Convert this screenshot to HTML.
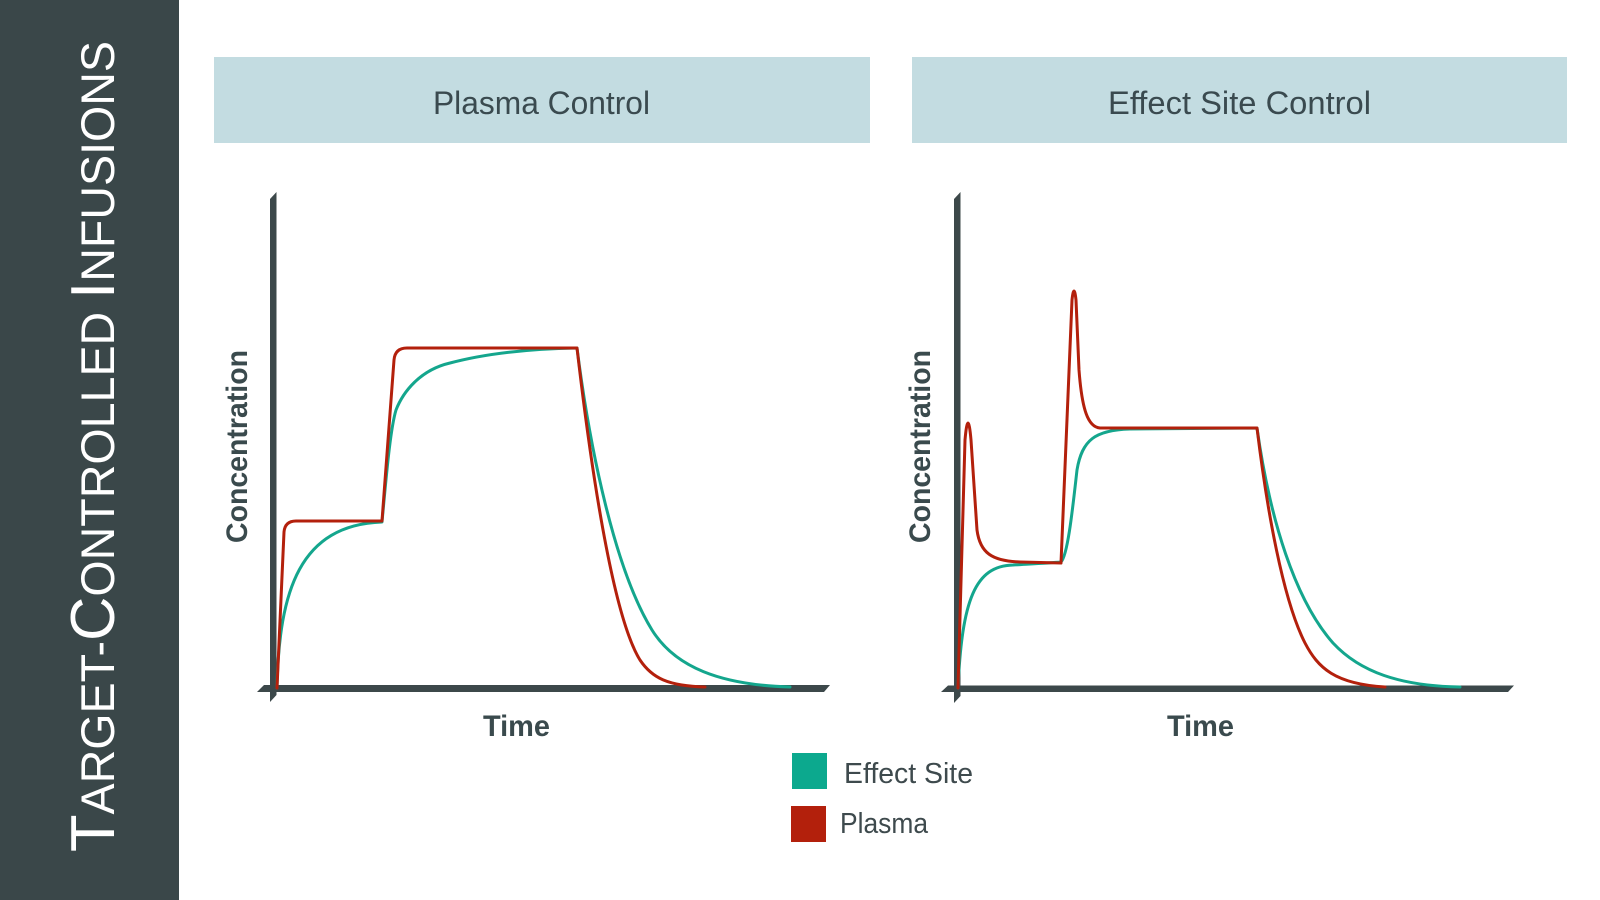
<!DOCTYPE html>
<html>
<head>
<meta charset="utf-8">
<style>
  html,body{margin:0;padding:0;background:#ffffff;}
  body{width:1600px;height:900px;overflow:hidden;}
  svg{display:block;}
  text{font-family:"Liberation Sans", Arial, sans-serif;}
</style>
</head>
<body>
<svg width="1600" height="900" viewBox="0 0 1600 900" xmlns="http://www.w3.org/2000/svg">
  <rect x="0" y="0" width="1600" height="900" fill="#ffffff"/>
  <!-- Sidebar -->
  <rect x="0" y="0" width="179" height="900" fill="#3a4749"/>
  <text transform="translate(114,852) rotate(-90)" font-size="47" fill="#ffffff" textLength="811" lengthAdjust="spacingAndGlyphs"><tspan font-size="62">T</tspan>ARGET-<tspan font-size="62">C</tspan>ONTROLLED <tspan font-size="62">I</tspan>NFUSIONS</text>

  <!-- Headers -->
  <rect x="214" y="57" width="656" height="86" fill="#c3dce1"/>
  <rect x="912" y="57" width="655" height="86" fill="#c3dce1"/>
  <text x="433" y="114" font-size="32" fill="#3a4a4f" textLength="217" lengthAdjust="spacingAndGlyphs">Plasma Control</text>
  <text x="1108" y="114" font-size="32" fill="#3a4a4f" textLength="263" lengthAdjust="spacingAndGlyphs">Effect Site Control</text>

  <!-- Plot 1 axes -->
  <polygon points="270,199 276.5,192 276.5,695 270,702" fill="#3c484a"/>
  <polygon points="257,692 264,685 830,685 824,692" fill="#3c484a"/>
  <!-- Plot 2 axes -->
  <polygon points="954,199 960.5,192 960.5,696 954,703" fill="#3c484a"/>
  <polygon points="941,692 948,685.5 1514,685.5 1508,692" fill="#3c484a"/>

  <!-- Axis labels -->
  <text transform="translate(247,543) rotate(-90)" font-size="30" font-weight="bold" fill="#3a4a4d" textLength="193" lengthAdjust="spacingAndGlyphs">Concentration</text>
  <text transform="translate(930,543) rotate(-90)" font-size="30" font-weight="bold" fill="#3a4a4d" textLength="193" lengthAdjust="spacingAndGlyphs">Concentration</text>
  <text x="483" y="736" font-size="30" font-weight="bold" fill="#3a4a4d" textLength="67" lengthAdjust="spacingAndGlyphs">Time</text>
  <text x="1167" y="736" font-size="30" font-weight="bold" fill="#3a4a4d" textLength="67" lengthAdjust="spacingAndGlyphs">Time</text>

  <!-- Plot 1 curves -->
  <path d="M277,688 C279,590 300,525 382,522 C386,480 390,430 396,410 C403,392 420,370 450,363 C480,355 520,349 577,348 C590,450 615,570 652,630 C675,667 720,685 790,687"
        fill="none" stroke="#14a68d" stroke-width="3" stroke-linejoin="round" stroke-linecap="round"/>
  <path d="M277,688 L284,532 Q285,521 296,521 L382,521 L394,360 Q395,348 407,348 L577,348 C590,460 612,615 640,660 C652,678 668,686 705,687"
        fill="none" stroke="#b3200c" stroke-width="3" stroke-linejoin="round" stroke-linecap="round"/>

  <!-- Plot 2 curves -->
  <path d="M958,688 C962,600 975,566 1013,565 C1030,564 1050,563 1061,562 C1068,555 1073,505 1077,470 C1082,440 1095,430 1130,429 L1257,428 C1270,520 1295,600 1333,643 C1360,672 1400,686 1460,687"
        fill="none" stroke="#14a68d" stroke-width="3" stroke-linejoin="round" stroke-linecap="round"/>
  <path d="M958,688 L965,440 Q968,406 971,440 L977,530 C980,553 992,561 1020,562 L1061,563 L1072,300 Q1074,282 1076,300 L1079,370 C1082,410 1088,427 1100,428 L1257,428 C1267,510 1283,600 1305,643 C1318,668 1335,684 1385,687"
        fill="none" stroke="#b3200c" stroke-width="3" stroke-linejoin="round" stroke-linecap="round"/>

  <!-- Legend -->
  <rect x="792" y="753" width="35" height="36" fill="#0ca98e"/>
  <rect x="791" y="806" width="35" height="36" fill="#b3200c"/>
  <text x="844" y="783" font-size="29" fill="#3e4a4d" textLength="129" lengthAdjust="spacingAndGlyphs">Effect Site</text>
  <text x="840" y="833" font-size="29" fill="#3e4a4d" textLength="88" lengthAdjust="spacingAndGlyphs">Plasma</text>
</svg>
</body>
</html>
